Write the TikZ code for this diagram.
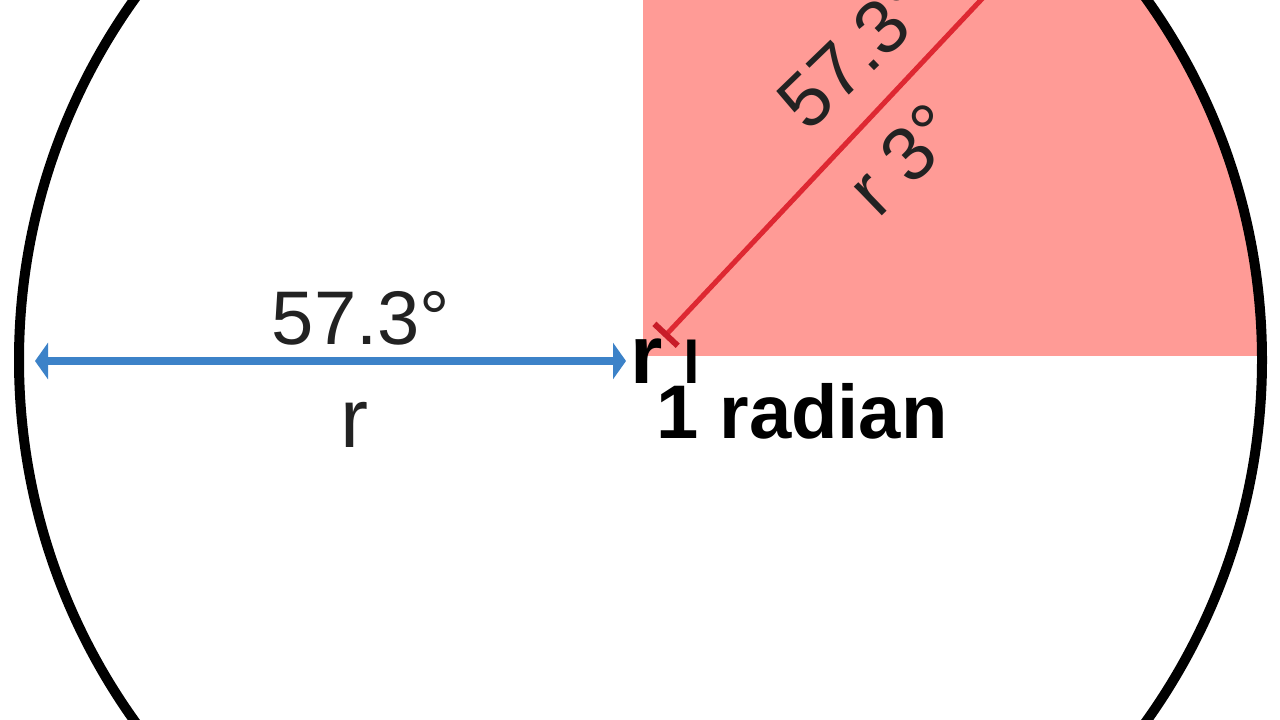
\documentclass[tikz,border=0pt]{standalone}
\usepackage{fontspec}
\setmainfont{Liberation Sans}
\usetikzlibrary{arrows.meta}
\definecolor{pinkfill}{RGB}{255,155,150}
\definecolor{redline}{RGB}{222,40,50}
\definecolor{redbar}{RGB}{200,28,40}
\definecolor{blueline}{RGB}{60,130,200}
\definecolor{txt}{RGB}{34,34,34}
\begin{document}
\begin{tikzpicture}[x=1pt,y=-1pt,
  lbl/.style={font=\fontsize{76}{80}\selectfont, text=txt, inner sep=0pt},
  boldlbl/.style={font=\bfseries\fontsize{76}{80}\selectfont, text=black, inner sep=0pt},
  rim/.style={line width=10pt, draw=black},
  radius line/.style={draw=redline, line width=5pt},
  span arrow/.style={draw=blueline, line width=8pt,
    {Triangle[length=13pt,width=36pt]}-{Triangle[length=13pt,width=36pt]}}
]
\useasboundingbox (0,0) rectangle (1280,720);
\clip (0,0) rectangle (1280,720);
\fill[white] (0,0) rectangle (1280,720);
\coordinate (O) at (640.5,360);
% pink sector
\begin{scope}
  \clip (O) circle [radius=621.5];
  \fill[pinkfill] (643,-10) rectangle (1300,356);
\end{scope}
% circle
\draw[rim] (O) circle [radius=621.5];
% blue double arrow
\coordinate (bl) at (35,361);
\coordinate (br) at (626,361);
\draw[span arrow] (bl) -- (br);
% marker glyphs near centre
\node[anchor=base, font=\bfseries\fontsize{83}{86}\selectfont, inner sep=0pt] (mr) at (647,383) {r};
\node[anchor=base, font=\bfseries\fontsize{60}{64}\selectfont, inner sep=0pt] (ml) at (692,383) {l};
% red radius
\coordinate (rtip) at (664,337);
\coordinate (rend) at (995,-15);
\draw[radius line, {Bar[width=32pt,line width=6pt,color=redbar]}-] (rtip) -- (rend);
% labels
\node[lbl, anchor=base] (deg1) at (361,344) {57.3°};
\node[lbl, anchor=base, font=\fontsize{84}{88}\selectfont] (rlab) at (354,447) {r};
\node[lbl, anchor=base, rotate=44] (deg2) at (873,72) {57.3°};
\node[lbl, anchor=base, rotate=44] (r3) at (921,178) {r 3°};
\node[boldlbl, anchor=base] (rad) at (802,438) {1 radian};
\end{tikzpicture}
\end{document}
